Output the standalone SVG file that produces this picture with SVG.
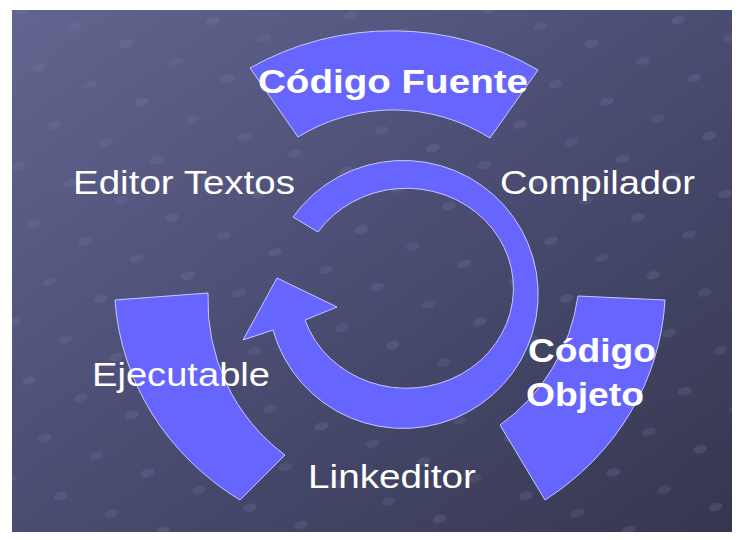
<svg xmlns="http://www.w3.org/2000/svg" width="744" height="540" viewBox="0 0 744 540">
<defs>
<linearGradient id="bg" x1="0" y1="0" x2="1" y2="1">
<stop offset="0" stop-color="#62658f"/>
<stop offset="0.5" stop-color="#4a4c72"/>
<stop offset="1" stop-color="#35374f"/>
</linearGradient>
<pattern id="dots" width="90" height="60" patternUnits="userSpaceOnUse" patternTransform="rotate(-15)">
<ellipse cx="20" cy="15" rx="7" ry="4" fill="#7a7da8" opacity="0.25"/>
<ellipse cx="65" cy="45" rx="7" ry="4" fill="#7a7da8" opacity="0.2"/>
</pattern>
<style>
.seg{fill:#6666ff;stroke:#c8c8ff;stroke-width:1}
.t{font-family:"Liberation Sans",Arial,sans-serif;fill:#ffffff}
.b{font-weight:bold}
</style>
</defs>
<rect width="744" height="540" fill="#ffffff"/>
<rect x="12" y="10" width="720" height="522" fill="url(#bg)"/>
<rect x="12" y="10" width="720" height="522" fill="url(#dots)"/>
<g id="codigo-fuente">
<path class="seg" d="M250,68 A275,258 0 0,1 538,70 L490,138 A185,190 0 0,0 298,137 Z"/>
<text class="t b" x="393" y="93" font-size="34" text-anchor="middle" textLength="270" lengthAdjust="spacingAndGlyphs">Código Fuente</text>
</g>
<g id="codigo-objeto">
<path class="seg" d="M665,300 A275,258 0 0,1 545,500 L500,425 A185,190 0 0,0 578,296 Z"/>
<text class="t b" x="592" y="362" font-size="33" text-anchor="middle" textLength="128" lengthAdjust="spacingAndGlyphs">Código</text>
<text class="t b" x="585" y="406" font-size="33" text-anchor="middle" textLength="118" lengthAdjust="spacingAndGlyphs">Objeto</text>
</g>
<g id="ejecutable">
<path class="seg" d="M240,500 A275,258 0 0,1 115,300 L208,293 A185,190 0 0,0 285,455 Z"/>
<text class="t" x="92" y="386" font-size="33" textLength="178" lengthAdjust="spacingAndGlyphs">Ejecutable</text>
</g>
<g id="connectors">
<path class="seg" d="M293,217 A135,134 0 1,1 273,330 L243,340 L277,278 L337,307 L305,320 A107,100 0 1,0 318,232 Z"/>
</g>
<g id="labels">
<text class="t" x="73" y="194" font-size="33" textLength="222" lengthAdjust="spacingAndGlyphs">Editor Textos</text>
<text class="t" x="500" y="194" font-size="33" textLength="195" lengthAdjust="spacingAndGlyphs">Compilador</text>
<text class="t" x="308" y="488" font-size="33" textLength="168" lengthAdjust="spacingAndGlyphs">Linkeditor</text>
</g>
</svg>
